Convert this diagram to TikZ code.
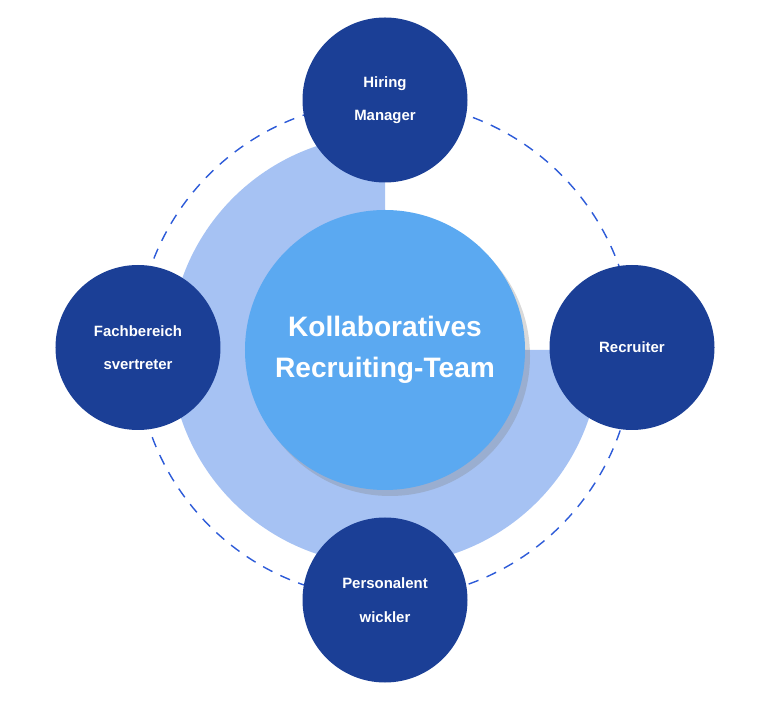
\documentclass[tikz,border=0pt]{standalone}
\usepackage{fontspec}
\setmainfont{Liberation Sans}
\usetikzlibrary{positioning,shadows}
\definecolor{darkblue}{HTML}{1B3F96}
\definecolor{midblue}{HTML}{5BA9F1}
\definecolor{lightblue}{HTML}{A6C2F3}
\definecolor{dashblue}{HTML}{2D5BD8}
\tikzset{
  member/.style={circle, fill=darkblue, minimum size=3.3cm, inner sep=0pt,
    text=white, font=\fontsize{8.5}{19}\selectfont\bfseries, align=center},
  team/.style={circle, fill=midblue, minimum size=5.6cm, inner sep=0pt,
    text=white, font=\fontsize{16}{23}\selectfont\bfseries, align=center,
    drop shadow={shadow xshift=0.1cm, shadow yshift=-0.12cm, opacity=0.3}}
}
\begin{document}
\begin{tikzpicture}
  \useasboundingbox (-7.70,-7.44) rectangle (7.66,7.00);
  % ring behind the team
  \fill[lightblue] (0,0) -- (0,4.3) arc (90:360:4.3) -- cycle;
  \draw[dashblue, thick, dash pattern=on 6pt off 5pt] (0,0) circle (4.97);
  \node[team] (team) at (0,0) {Kollaboratives\\Recruiting-Team};
  % the four roles
  \node[member] (hiring) at (0,5.0) {Hiring\\Manager};
  \node[member] (recruiter) at (4.94,0.05) {Recruiter};
  \node[member] (personal) at (0,-5.0) {Personalent\\wickler};
  \node[member] (fach) at (-4.94,0.05) {Fachbereich\\svertreter};
\end{tikzpicture}
\end{document}
